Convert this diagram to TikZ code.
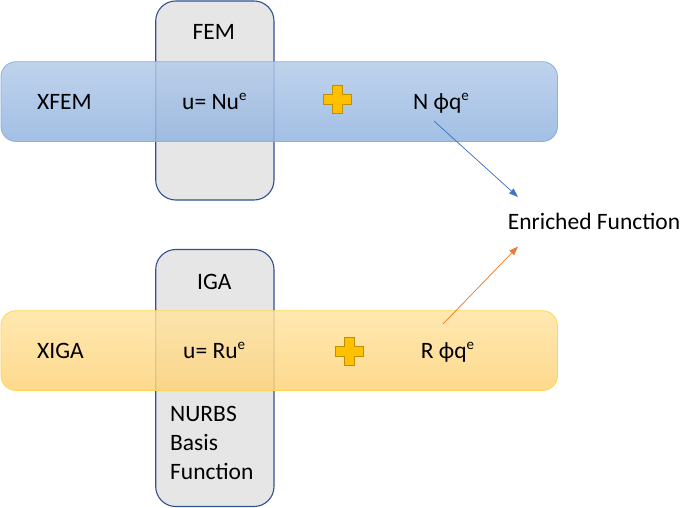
\documentclass[tikz,border=0pt]{standalone}
\usepackage{fontspec}
\setmainfont{Carlito}
\usetikzlibrary{arrows.meta}
\definecolor{boxgray}{HTML}{E7E6E6}
\definecolor{boxline}{HTML}{2F528F}
\definecolor{bluetop}{HTML}{B4CBE9}
\definecolor{bluebot}{HTML}{92B4E0}
\definecolor{blueline}{HTML}{8EB0DD}
\definecolor{yeltop}{HTML}{FFE4A3}
\definecolor{yelbot}{HTML}{FED37A}
\definecolor{yelline}{HTML}{FFD555}
\definecolor{plusfill}{HTML}{FFC000}
\definecolor{plusline}{HTML}{BF9000}
\definecolor{arrblue}{HTML}{4472C4}
\definecolor{arrorange}{HTML}{ED7D31}
\tikzset{
  graybox/.style={draw=boxline, line width=1.1pt, fill=boxgray, rounded corners=20pt},
  bluebar/.style={draw=blueline, line width=0.8pt, top color=bluetop, bottom color=bluebot, fill opacity=0.85, rounded corners=15pt},
  yelbar/.style={draw=yelline, line width=0.8pt, top color=yeltop, bottom color=yelbot, fill opacity=0.85, rounded corners=15pt},
  plussign/.style={fill=plusfill, draw=plusline, line width=0.8pt},
  lbl/.style={font=\fontsize{23.5}{29}\selectfont, inner sep=0pt, anchor=base west, text=black},
  arr/.style={line width=0.7pt, -{Triangle[length=9pt,width=6.5pt]}}
}
\newcommand{\supe}{\raisebox{8.5pt}{\fontsize{15}{15}\selectfont e}}
\newcommand{\plusat}[2]{%
  \path[plussign] (#1-5,#2-14) -- (#1+5,#2-14) -- (#1+5,#2-5) -- (#1+14,#2-5) -- (#1+14,#2+5) -- (#1+5,#2+5) -- (#1+5,#2+14) -- (#1-5,#2+14) -- (#1-5,#2+5) -- (#1-14,#2+5) -- (#1-14,#2-5) -- (#1-5,#2-5) -- cycle;}
\begin{document}
\begin{tikzpicture}[x=1pt,y=-1pt]
\useasboundingbox (0,0) rectangle (685,508);
% FEM / XFEM
\draw[graybox] (155.7,1) rectangle (274,200);
\draw[bluebar] (1,61.7) rectangle (557.5,141.5);
% IGA / XIGA
\draw[graybox] (155.7,249.5) rectangle (274,506.5);
\draw[yelbar] (1,310.7) rectangle (557.5,390.5);
% plus signs
\plusat{337}{99}
\plusat{349}{351.5}
% texts
\node[lbl] (fem) at (192.5,40) {FEM};
\node[lbl] (xfem) at (37,109.3) {XFEM};
\node[lbl] (ufem) at (182,109.3) {u= Nu\supe};
\node[lbl] (nphi) at (413,109.3) {N \char"03D5q\supe};
\node[lbl] (ef) at (507.7,229) {Enriched Function};
\node[lbl] (iga) at (197,289) {IGA};
\node[lbl] (xiga) at (37,358) {XIGA};
\node[lbl] (uiga) at (183,358) {u= Ru\supe};
\node[lbl] (rphi) at (420.7,358) {R \char"03D5q\supe};
\node[lbl, align=left] (nurbs) at (170,479.5) {NURBS\\Basis\\Function};
% arrows
\coordinate (bs) at (434,121);
\coordinate (be) at (518,197);
\coordinate (os) at (443,324);
\coordinate (oe) at (518,246.5);
\draw[arr, draw=arrblue, fill=arrblue] (bs) -- (be);
\draw[arr, draw=arrorange, fill=arrorange] (os) -- (oe);
\end{tikzpicture}
\end{document}
